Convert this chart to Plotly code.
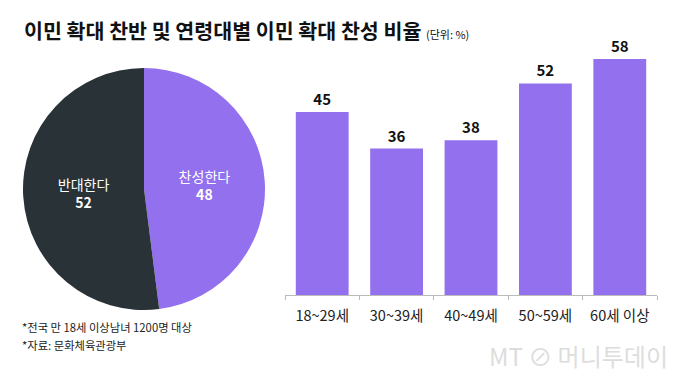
import plotly.graph_objects as go

pie_labels = ["찬성한다", "반대한다"]
pie_values = [48, 52]
pie_colors = ["#9370ee", "#283237"]

age_groups = ["18~29세", "30~39세", "40~49세", "50~59세", "60세 이상"]
support = [45, 36, 38, 52, 58]

notes = ["*전국 만 18세 이상남녀 1200명 대상", "*자료: 문화체육관광부"]

FONT = "Noto Sans CJK KR"
W, H = 680, 384

fig = go.Figure()

fig.add_trace(go.Pie(
    labels=pie_labels, values=pie_values, sort=False, direction="clockwise", rotation=0,
    marker=dict(colors=pie_colors, line=dict(width=0)),
    text=[f"{l}<br><b>{v}</b>" for l, v in zip(pie_labels, pie_values)],
    textinfo="text", textposition="inside", insidetextorientation="horizontal",
    textfont=dict(family=FONT, size=14, color="white"),
    domain=dict(x=[23 / W, 265 / W], y=[(H - 310) / H, (H - 68) / H]),
    showlegend=False, hoverinfo="label+value",
))

fig.add_trace(go.Bar(
    x=age_groups, y=support, marker=dict(color="#9370ee", line=dict(width=0)),
    text=[f"<b>{v}</b>" for v in support], textposition="outside",
    textfont=dict(family=FONT, size=15, color="#111"), cliponaxis=False,
    showlegend=False, xaxis="x", yaxis="y",
))

annotations = [
    dict(text="<b>이민 확대 찬반 및 연령대별 이민 확대 찬성 비율</b> <span style='font-size:11px'>(단위: %)</span>",
         x=22 / W, y=1 - 13 / H, xref="paper", yref="paper", xanchor="left", yanchor="top",
         showarrow=False, font=dict(family=FONT, size=20.6, color="#111")),
    dict(text="MT ⊘ 머니투데이", x=670 / W, y=1 - 355 / H, xref="paper", yref="paper",
         xanchor="right", yanchor="middle", showarrow=False,
         font=dict(family=FONT, size=24, color="#dddddd")),
]
for i, n in enumerate(notes):
    annotations.append(dict(text=n, x=20 / W, y=1 - (327 + 18 * i) / H, xref="paper", yref="paper",
                            xanchor="left", yanchor="middle", align="left", showarrow=False,
                            font=dict(family=FONT, size=11.3, color="#222")))

fig.update_layout(
    width=W, height=H, margin=dict(l=0, r=0, t=0, b=0),
    paper_bgcolor="white", plot_bgcolor="white",
    bargap=0.29,
    xaxis=dict(domain=[285 / W, 657 / W], showline=True, linecolor="#bbbbbb", linewidth=1,
               ticks="outside", tickson="boundaries", ticklen=4, tickcolor="#bbbbbb",
               ticklabelstandoff=8,
               tickfont=dict(family=FONT, size=14.5, color="#222"), showgrid=False, zeroline=False),
    yaxis=dict(domain=[(H - 295) / H, (H - 42.7) / H], range=[0, 62], visible=False,
               showgrid=False, zeroline=False),
    annotations=annotations,
)

fig.write_html("out.html", config={"displayModeBar": False},
               post_script="document.body.style.margin='0';document.body.style.padding='0';")
